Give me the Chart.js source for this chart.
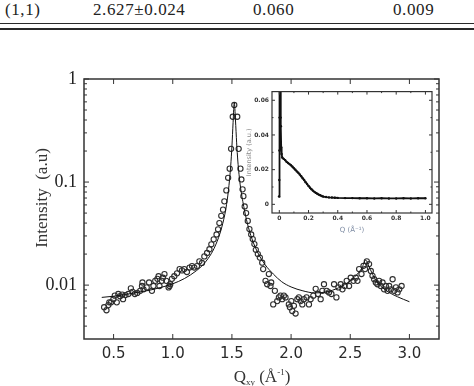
<!DOCTYPE html>
<html>
<head>
<meta charset="utf-8">
<script src="https://cdn.jsdelivr.net/npm/chart.js@4.4.1/dist/chart.umd.min.js"></script>
<style>
  html, body { margin: 0; padding: 0; background: #fff; }
  body { width: 474px; height: 386px; position: relative; overflow: hidden; font-family: "Liberation Serif", serif; color: #222; }
  .cell { position: absolute; top: 1px; font-size: 17px; line-height: 17px; letter-spacing: 0.6px; white-space: nowrap; }
  .rule { position: absolute; left: 0; width: 474px; background: #2a2a2a; }
  #main { position: absolute; left: 0; top: 0; }
  #inset { position: absolute; left: 240px; top: 85px; }
  .ytitle { position: absolute; left: -18px; top: 188px; width: 120px; text-align: center; font-size: 17px; line-height: 20px; color: #333; transform: rotate(-90deg); white-space: pre; }
  .xtitle { position: absolute; left: 202px; top: 362px; width: 120px; text-align: center; font-size: 17px; line-height: 20px; color: #333; }
  .xtitle sub { font-size: 9px; vertical-align: -3px; }
  .xtitle sup { font-size: 9px; vertical-align: 7px; }
</style>
</head>
<body>
<div class="cell" style="left:5px">(1,1)</div>
<div class="cell" style="left:93px">2.627±0.024</div>
<div class="cell" style="left:253px">0.060</div>
<div class="cell" style="left:393px">0.009</div>
<div class="rule" style="top:23px;height:1.3px"></div>
<div class="rule" style="top:28px;height:2px"></div>

<canvas id="main" width="474" height="386"></canvas>
<canvas id="inset" width="197" height="150"></canvas>
<div class="ytitle">Intensity  (a.u)</div>
<div class="xtitle">Q<sub>xy</sub> (Å<sup>-1</sup>)</div>

<script>
// measured Qxy scan (open circles)
const qxy = [
  0.42, 0.44, 0.456, 0.464, 0.479, 0.498, 0.51, 0.527, 0.54, 0.555, 0.573, 0.58, 0.60, 0.625, 0.646, 0.66,
  0.68, 0.70, 0.725, 0.74, 0.744, 0.753, 0.78, 0.80, 0.824, 0.837, 0.852, 0.87, 0.88, 0.888, 0.908, 0.917,
  0.93, 0.945, 0.965, 0.973, 0.979, 0.993, 1.013, 1.036, 1.058, 1.078, 1.097, 1.12, 1.142, 1.163, 1.182,
  1.205, 1.225, 1.247, 1.267, 1.29, 1.31, 1.326, 1.346, 1.37, 1.383, 1.394, 1.41, 1.425, 1.436, 1.453,
  1.468, 1.481, 1.493, 1.507, 1.52, 1.545, 1.557, 1.572, 1.58, 1.59, 1.597, 1.608, 1.62, 1.634, 1.648,
  1.663, 1.676, 1.69, 1.702, 1.719, 1.736, 1.756, 1.764, 1.784, 1.798, 1.812, 1.826, 1.832, 1.849, 1.863,
  1.883, 1.897, 1.911, 1.925, 1.939, 1.953, 1.981, 1.99, 2.002, 2.01, 2.024, 2.038, 2.053, 2.066, 2.081,
  2.095, 2.108, 2.131, 2.151, 2.165, 2.188, 2.208, 2.227, 2.25, 2.264, 2.278, 2.301, 2.32, 2.341, 2.363,
  2.383, 2.40, 2.419, 2.434, 2.453, 2.47, 2.49, 2.504, 2.527, 2.547, 2.561, 2.575, 2.595, 2.612, 2.625,
  2.64, 2.659, 2.674, 2.688, 2.702, 2.716, 2.73, 2.744, 2.758, 2.773, 2.786, 2.801, 2.815, 2.829, 2.843,
  2.858, 2.871, 2.886, 2.90, 2.914, 2.934
];
const intensity = [
  0.0061, 0.0057, 0.0064, 0.0068, 0.0068, 0.0073, 0.0079, 0.0068, 0.0082, 0.0078, 0.0081, 0.0073, 0.0080, 0.0082, 0.0093, 0.0086,
  0.0082, 0.0084, 0.0088, 0.0098, 0.0106, 0.0091, 0.0095, 0.0106, 0.0088, 0.0098, 0.0110, 0.0115, 0.0122, 0.0098, 0.0110, 0.0118,
  0.0128, 0.0110, 0.0095, 0.0098, 0.0102, 0.0115, 0.0122, 0.0130, 0.0143, 0.0139, 0.0143, 0.0134, 0.0148, 0.0153, 0.0148,
  0.0153, 0.0170, 0.0164, 0.0190, 0.0205, 0.0223, 0.0249, 0.0278, 0.0310, 0.0348, 0.040, 0.047, 0.054, 0.065, 0.083,
  0.110, 0.135, 0.21, 0.43, 0.56, 0.43, 0.21, 0.135, 0.106, 0.085, 0.073, 0.058, 0.050, 0.042, 0.035,
  0.031, 0.028, 0.025, 0.022, 0.020, 0.0185, 0.0165, 0.0143, 0.0110, 0.0102, 0.0128, 0.0098, 0.0106, 0.0065, 0.0088,
  0.0070, 0.0076, 0.0079, 0.0073, 0.0079, 0.0076, 0.0065, 0.0061, 0.0070, 0.0056, 0.0063, 0.0053, 0.0073, 0.0076, 0.0070,
  0.0065, 0.0073, 0.0076, 0.0065, 0.0073, 0.0079, 0.0092, 0.0082, 0.0073, 0.0088, 0.0102, 0.0088, 0.0085, 0.0082, 0.0102,
  0.0076, 0.0095, 0.0102, 0.0091, 0.0098, 0.0110, 0.0098, 0.0118, 0.0110, 0.0118, 0.0110, 0.0143, 0.0128, 0.0154, 0.0143,
  0.0170, 0.0160, 0.0137, 0.0123, 0.0114, 0.0106, 0.0102, 0.0110, 0.0098, 0.0106, 0.0091, 0.0098, 0.0088, 0.0098, 0.0091,
  0.0114, 0.0088, 0.0095, 0.0085, 0.0091, 0.0098
];

// fitted curve (solid line)
const fitQ = [0.40, 0.50, 0.60, 0.70, 0.80, 0.90, 1.00, 1.10, 1.20, 1.25, 1.30, 1.35, 1.40, 1.43, 1.45, 1.47, 1.49, 1.50,
  1.51, 1.52, 1.53, 1.54, 1.55, 1.57, 1.60, 1.63, 1.67, 1.72, 1.78, 1.85, 1.92, 2.00, 2.10, 2.20, 2.30, 2.40, 2.50,
  2.56, 2.60, 2.63, 2.66, 2.70, 2.75, 2.82, 2.90, 3.00];
const fitI = [0.0076, 0.0078, 0.0081, 0.0085, 0.0089, 0.0095, 0.0103, 0.0116, 0.0138, 0.0155, 0.0182, 0.0228, 0.032, 0.043,
  0.056, 0.082, 0.145, 0.22, 0.38, 0.59, 0.40, 0.24, 0.16, 0.094, 0.058, 0.040, 0.028, 0.0205, 0.0158, 0.0128, 0.0108,
  0.0096, 0.0088, 0.0084, 0.0086, 0.0094, 0.0110, 0.0128, 0.0148, 0.0175, 0.0150, 0.0120, 0.0100, 0.0086, 0.0077, 0.0069];

// inset: intensity vs Q
const insetQ = [-0.002, 0.0, 0.001, 0.002, 0.003, 0.007, 0.009, 0.011, 0.013, 0.016, 0.02, 0.03, 0.04, 0.05, 0.06, 0.07,
  0.08, 0.09, 0.10, 0.11, 0.12, 0.13, 0.14, 0.15, 0.16, 0.17, 0.18, 0.19, 0.20, 0.21, 0.22, 0.23, 0.24, 0.25, 0.26,
  0.27, 0.28, 0.29, 0.30, 0.32, 0.34, 0.36, 0.38, 0.40, 0.45, 0.50, 0.55, 0.60, 0.65, 0.70, 0.75, 0.80, 0.85, 0.90,
  0.95, 1.00];
const insetI = [0.0045, 0.014, 0.031, 0.050, 0.068, 0.068, 0.050, 0.045, 0.033, 0.029, 0.027, 0.0262, 0.0255, 0.0245,
  0.0238, 0.0232, 0.0225, 0.0217, 0.0208, 0.0199, 0.0190, 0.0182, 0.0172, 0.0162, 0.0150, 0.0140, 0.0128, 0.0117,
  0.0106, 0.0096, 0.0087, 0.0079, 0.0072, 0.0066, 0.0061, 0.0056, 0.0052, 0.0048, 0.0045, 0.0042, 0.0040, 0.0039,
  0.0038, 0.0037, 0.0036, 0.0036, 0.0035, 0.0035, 0.0034, 0.0035, 0.0034, 0.0034, 0.0035, 0.0034, 0.0035, 0.0035];

// ticks
const xTicks = [0.5, 1.0, 1.5, 2.0, 2.5, 3.0];
const yTicks = [0.01, 0.1, 1];
const yTickLabels = ['0.01', '0.1', '1'];
const yMinorTicks = [0.004, 0.005, 0.006, 0.007, 0.008, 0.009, 0.02, 0.03, 0.04, 0.05, 0.06, 0.07, 0.08, 0.09,
  0.2, 0.3, 0.4, 0.5, 0.6, 0.7, 0.8, 0.9];
const insetXTicks = [0, 0.2, 0.4, 0.6, 0.8, 1.0];
const insetXLabels = ['0', '0.2', '0.4', '0.6', '0.8', '1.0'];
const insetXMinor = [0.1, 0.3, 0.5, 0.7, 0.9];
const insetYTicks = [0, 0.02, 0.04, 0.06];
const insetYLabels = ['0', '0.02', '0.04', '0.06'];
const insetYMinor = [0.01, 0.03, 0.05];

function pts(xs, ys) {
  return xs.map((x, i) => ({ x, y: ys[i] }));
}

// box frame with inward ticks on all four sides
function framePlugin(id, cfg) {
  return {
    id,
    afterDatasetsDraw(chart) {
      const { ctx, chartArea: a } = chart;
      const xs = chart.scales.x, ys = chart.scales.y;
      ctx.save();
      ctx.strokeStyle = cfg.color;
      ctx.lineWidth = 1;
      ctx.beginPath();
      const xt = (vals, len) => vals.forEach((v) => {
        const p = xs.getPixelForValue(v);
        ctx.moveTo(p, a.bottom); ctx.lineTo(p, a.bottom - len);
        ctx.moveTo(p, a.top); ctx.lineTo(p, a.top + len);
      });
      const yt = (vals, len) => vals.forEach((v) => {
        const p = ys.getPixelForValue(v);
        ctx.moveTo(a.left, p); ctx.lineTo(a.left + len, p);
        ctx.moveTo(a.right, p); ctx.lineTo(a.right - len, p);
      });
      xt(cfg.xMajor, cfg.major);
      xt(cfg.xMinor, cfg.minor);
      yt(cfg.yMajor, cfg.major);
      yt(cfg.yMinor, cfg.minor);
      ctx.stroke();
      ctx.lineWidth = cfg.frameWidth;
      ctx.strokeRect(a.left, a.top, a.right - a.left, a.bottom - a.top);
      ctx.restore();
    }
  };
}

new Chart(document.getElementById('main'), {
  type: 'scatter',
  data: {
    datasets: [
      {
        type: 'line',
        data: pts(fitQ, fitI),
        borderColor: '#111',
        borderWidth: 1,
        pointRadius: 0,
        cubicInterpolationMode: 'monotone',
        fill: false
      },
      {
        data: pts(qxy, intensity),
        showLine: false,
        pointStyle: 'circle',
        pointRadius: 2.6,
        borderWidth: 1.1,
        borderColor: '#2e2e2e',
        backgroundColor: 'rgba(0,0,0,0)'
      }
    ]
  },
  options: {
    responsive: false,
    animation: false,
    layout: { padding: { left: 0, top: 79, right: 35, bottom: 0 } },
    plugins: { legend: { display: false }, tooltip: { enabled: false } },
    scales: {
      x: {
        type: 'linear',
        min: 0.25,
        max: 3.25,
        afterBuildTicks: (s) => { s.ticks = xTicks.map((v) => ({ value: v })); },
        afterFit: (s) => { s.height = 47; },
        grid: { display: false, drawTicks: false },
        border: { display: false },
        ticks: {
          padding: 6,
          color: '#2a2a2a',
          font: { family: 'DejaVu Sans', size: 15 },
          callback: (v) => Number(v).toFixed(1)
        }
      },
      y: {
        type: 'logarithmic',
        min: 0.003,
        max: 1,
        afterBuildTicks: (s) => { s.ticks = yTicks.map((v) => ({ value: v })); },
        afterFit: (s) => { s.width = 84; },
        grid: { display: false, drawTicks: false },
        border: { display: false },
        ticks: {
          padding: 7,
          color: '#222',
          font: { family: 'Liberation Serif', size: 18 },
          callback: (v) => yTickLabels[yTicks.indexOf(v)]
        }
      }
    }
  },
  plugins: [framePlugin('mainFrame', {
    color: '#333', frameWidth: 1.5, major: 5, minor: 3,
    xMajor: xTicks, xMinor: [], yMajor: yTicks, yMinor: yMinorTicks
  })]
});

new Chart(document.getElementById('inset'), {
  type: 'line',
  data: {
    datasets: [
      {
        data: pts(insetQ, insetI),
        borderColor: '#111',
        borderWidth: 1.8,
        pointRadius: 1.2,
        pointBackgroundColor: '#111',
        pointBorderWidth: 0,
        fill: false
      }
    ]
  },
  options: {
    responsive: false,
    animation: false,
    layout: { padding: { left: 0, top: 4, right: 5, bottom: 0 } },
    plugins: { legend: { display: false }, tooltip: { enabled: false } },
    scales: {
      x: {
        type: 'linear',
        min: -0.05,
        max: 1.045,
        afterBuildTicks: (s) => { s.ticks = insetXTicks.map((v) => ({ value: v })); },
        afterFit: (s) => { s.height = 22; },
        grid: { display: false, drawTicks: false },
        border: { display: false },
        ticks: {
          padding: 2,
          color: '#333',
          font: { family: 'DejaVu Sans', size: 6, weight: 'bold' },
          callback: (v) => insetXLabels[insetXTicks.indexOf(v)]
        },
        title: {
          display: true,
          text: 'Q (Å⁻¹)',
          color: '#7d8ba3',
          font: { family: 'DejaVu Sans', size: 7 },
          padding: { top: 0, bottom: 1 }
        }
      },
      y: {
        type: 'linear',
        min: -0.005,
        max: 0.065,
        afterBuildTicks: (s) => { s.ticks = insetYTicks.map((v) => ({ value: v })); },
        afterFit: (s) => { s.width = 32; },
        grid: { display: false, drawTicks: false },
        border: { display: false },
        ticks: {
          padding: 3,
          color: '#333',
          font: { family: 'DejaVu Sans', size: 6, weight: 'bold' },
          callback: (v) => insetYLabels[insetYTicks.indexOf(v)]
        },
        title: {
          display: true,
          text: 'Intensity (a.u.)',
          color: '#8a8a8a',
          font: { family: 'DejaVu Sans', size: 6.5 },
          padding: { top: 5, bottom: 0 }
        }
      }
    }
  },
  plugins: [framePlugin('insetFrame', {
    color: '#333', frameWidth: 1.2, major: 3, minor: 1.5,
    xMajor: insetXTicks, xMinor: insetXMinor, yMajor: insetYTicks, yMinor: insetYMinor
  })]
});
</script>
</body>
</html>
